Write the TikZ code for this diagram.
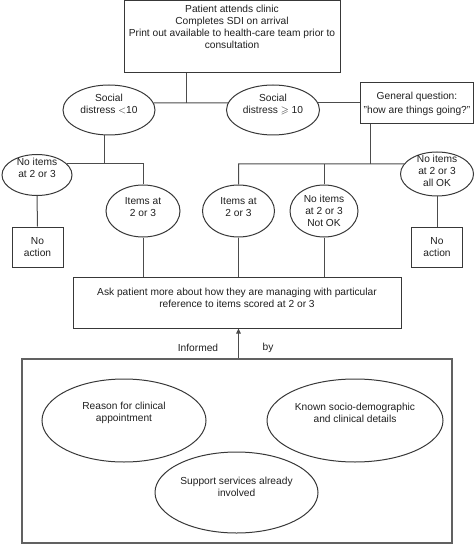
\documentclass[tikz,border=0pt]{standalone}
\usepackage{amssymb}
\usepackage{fontspec}
\setmainfont{Liberation Sans}
\usetikzlibrary{shapes.geometric,arrows.meta}
\begin{document}
\begin{tikzpicture}[x=1pt,y=-1pt,
  every node/.style={font=\fontsize{10.2}{12}\selectfont, text=black!88},
  box/.style={draw=black!78, line width=1pt, inner sep=0pt, align=center},
  oval/.style={ellipse, draw=black!78, line width=1pt, inner sep=0pt},
  txt/.style={align=center, inner sep=0pt, font=\fontsize{10.2}{12}\selectfont, text=black!88},
  link/.style={draw=black!70, line width=1pt}]
\useasboundingbox (0,0) rectangle (474,545);

% top box
\node[box, minimum width=216pt, minimum height=72pt] (top) at (232,36.5) {};
\node[txt, anchor=north] (toptext) at (232,5) {Patient attends clinic\\Completes SDI on arrival\\Print out available to health-care team prior to\\consultation};

% social distress ellipses
\node[oval, minimum width=92pt, minimum height=50pt,
  label={[txt,yshift=5.5pt]center:{Social\\distress $<$10}}] (e1) at (109,110) {};
\node[oval, minimum width=93pt, minimum height=50pt,
  label={[txt,yshift=5.5pt]center:{Social\\distress $\geqslant$ 10}}] (e2) at (273,110) {};
\node[box, minimum width=113pt, minimum height=41pt] (gq) at (417,103.5) {General question:\\[2pt]"how are things going?"};

% second level
\node[oval, minimum width=70pt, minimum height=41pt,
  label={[txt,yshift=7pt]center:{No items\\at 2 or 3}}] (ni1) at (37,175) {};
\node[box, minimum width=51pt, minimum height=40pt] (na1) at (37.5,247) {No\\action};
\node[oval, minimum width=74pt, minimum height=52pt,
  label={[txt,yshift=3.5pt]center:{Items at\\2 or 3}}] (it1) at (143,211) {};
\node[oval, minimum width=72pt, minimum height=52pt,
  label={[txt,yshift=3.5pt]center:{Items at\\2 or 3}}] (it2) at (238.5,211) {};
\node[oval, minimum width=68pt, minimum height=52pt,
  label={[txt]center:{No items\\at 2 or 3\\Not OK}}] (nok) at (324,211) {};
\node[oval, minimum width=73pt, minimum height=44pt,
  label={[txt,yshift=3.5pt]center:{No items\\at 2 or 3\\all OK}}] (ni2) at (437,174) {};
\node[box, minimum width=51pt, minimum height=40pt] (na2) at (437,247) {No\\action};

% ask box
\node[box, minimum width=328pt, minimum height=51pt,
  label={[txt,yshift=4.5pt]center:{Ask patient more about how they are managing with particular\\reference to items scored at 2 or 3}}] (ask) at (237,302.5) {};

% informed by box
\node[draw=black!62, line width=1.4pt, minimum width=430pt, minimum height=184pt, inner sep=0pt] (info) at (237,451) {};
\node[oval, minimum width=164pt, minimum height=83pt,
  label={[txt,yshift=8pt]center:{Reason for clinical\\appointment}}] (reason) at (124,420.5) {};
\node[oval, minimum width=176pt, minimum height=83pt,
  label={[txt,yshift=8pt]center:{Known socio-demographic\\and clinical details}}] (known) at (355,420.5) {};
\node[oval, minimum width=163pt, minimum height=81pt,
  label={[txt,yshift=6pt]center:{Support services already\\involved}}] (support) at (236.5,492.5) {};

\node[txt] (informed) at (198,348) {Informed};
\node[txt] (by) at (268,348) {by};

% connectors
\coordinate (j1) at (186,103);
\coordinate (jL) at (104,164);
\coordinate (jR) at (370,164);
\draw[link] (top.south -| j1) -- (j1);
\draw[link] (e1.9) -- (e2.171);
\draw[link] (e2.9) -- (e2.9 -| gq.west);
\draw[link] (e1.south -| jL) -- (jL);
\draw[link] (ni1.20) -- (ni1.20 -| it1.north) -- (it1.north);
\draw[link] (ni1.south) -- (na1.north);
\draw[link] (gq.south -| jR) -- (jR);
\draw[link] (it2.north) -- (it2.north |- jR) -- (ni2.163);
\draw[link] (nok.north) -- (nok.north |- jR);
\draw[link] (ni2.south) -- (na2.north);
\draw[link] (it1.south) -- (it1.south |- ask.north);
\draw[link] (it2.south) -- (it2.south |- ask.north);
\draw[link] (nok.south) -- (nok.south |- ask.north);
\draw[link, -{Triangle[length=5pt,width=4.5pt]}] (info.north -| it2.south) -- (ask.south -| it2.south);
\end{tikzpicture}
\end{document}
